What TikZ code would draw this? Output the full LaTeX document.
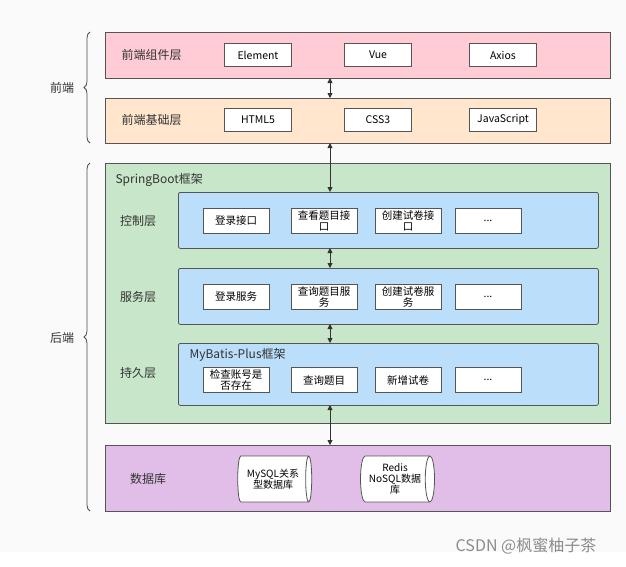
\documentclass[tikz,border=0pt]{standalone}
\usepackage{fontspec}
\setmainfont{Noto Sans CJK SC}
\usetikzlibrary{shapes.geometric,decorations.pathreplacing,arrows.meta}
\definecolor{pinkf}{HTML}{FFCCD5}
\definecolor{orangef}{HTML}{FFE6CC}
\definecolor{greenf}{HTML}{C8E6C9}
\definecolor{bluef}{HTML}{BBDEFB}
\definecolor{purplef}{HTML}{E1BEE7}
\definecolor{edge}{HTML}{555555}
\begin{document}
\begin{tikzpicture}[x=1pt,y=-1pt,
  layer/.style={draw=edge,line width=0.8pt},
  item/.style={draw=edge,fill=white,line width=0.8pt,minimum width=66pt,minimum height=25pt,inner sep=1pt,align=center,font=\fontsize{10.5}{11}\selectfont},
  lbl/.style={font=\fontsize{12}{13}\selectfont,text=black!80},
  arr/.style={{Triangle[length=5pt,width=5pt]}-{Triangle[length=5pt,width=5pt]},line width=0.9pt,draw=black!80},
  brace/.style={decorate,decoration={brace,amplitude=6pt,mirror},draw=black!70,line width=0.8pt},
  db/.style={cylinder,shape border rotate=0,aspect=0.3,draw=edge,fill=white,line width=0.8pt,minimum width=46pt,minimum height=74pt,align=center,inner sep=0pt,font=\fontsize{10}{11}\selectfont}]
\useasboundingbox (0,0) rectangle (626,566);
\fill[black!2] (0,0) rectangle (626,552);
% frontend
\node[layer,fill=pinkf,minimum width=505pt,minimum height=46pt,anchor=north west] (fc) at (105,32) {};
\node[lbl,anchor=west] (fcl) at (118,55) {前端组件层};
\node[item,minimum width=67pt,minimum height=23pt] (el) at (258,55) {Element};
\node[item,minimum width=67pt,minimum height=23pt] (vue) at (378,55) {Vue};
\node[item,minimum width=67pt,minimum height=23pt] (ax) at (503,55) {Axios};
\node[layer,fill=orangef,minimum width=505pt,minimum height=45pt,anchor=north west] (fb) at (105,98) {};
\node[lbl,anchor=west] (fbl) at (118,120) {前端基础层};
\node[item,minimum width=67pt,minimum height=23pt] (h5) at (258,120) {HTML5};
\node[item,minimum width=67pt,minimum height=23pt] (css) at (378,120) {CSS3};
\node[item,minimum width=67pt,minimum height=23pt] (js) at (503,120) {JavaScript};
% backend
\node[layer,fill=greenf,minimum width=505pt,minimum height=260pt,anchor=north west] (sb) at (105,163) {};
\node[lbl,anchor=west] (sbl) at (112,180) {SpringBoot框架};
\node[layer,fill=bluef,rounded corners=2pt,minimum width=420pt,minimum height=56pt,anchor=north west] (ctl) at (178,192) {};
\node[lbl] (ctll) at (138,221) {控制层};
\node[item] (c1) at (236,221) {登录接口};
\node[item] (c2) at (324,221) {查看题目接\\口};
\node[item] (c3) at (408,221) {创建试卷接\\口};
\node[item] (c4) at (488,221) {...};
\node[layer,fill=bluef,rounded corners=2pt,minimum width=420pt,minimum height=56pt,anchor=north west] (svc) at (178,268) {};
\node[lbl] (svcl) at (138,297) {服务层};
\node[item] (s1) at (236,297) {登录服务};
\node[item] (s2) at (324,297) {查询题目服\\务};
\node[item] (s3) at (408,297) {创建试卷服\\务};
\node[item] (s4) at (488,297) {...};
\node[layer,fill=bluef,rounded corners=2pt,minimum width=420pt,minimum height=62pt,anchor=north west] (per) at (178,343) {};
\node[lbl,anchor=west] (perm) at (186,355) {MyBatis-Plus框架};
\node[lbl] (perl) at (138,373) {持久层};
\node[item] (p1) at (236,380) {检查账号是\\否存在};
\node[item] (p2) at (324,380) {查询题目};
\node[item] (p3) at (408,380) {新增试卷};
\node[item] (p4) at (488,380) {...};
\node[layer,fill=purplef,minimum width=505pt,minimum height=66pt,anchor=north west] (dbl) at (105,445) {};
\node[lbl] (dbll) at (148,479) {数据库};
\node[db] (mysql) at (273,479) {MySQL关系\\型数据库};
\node[db] (redis) at (395,479) {Redis\\NoSQL数据\\库};
% arrows
\draw[arr] (330,78) -- (330,98);
\draw[arr] (330,143) -- (330,192);
\draw[arr] (330,248) -- (330,268);
\draw[arr] (330,324) -- (330,343);
\draw[arr] (330,405) -- (330,445);
% braces
\draw[brace] (90,32) -- (90,143);
\node[lbl] (fe) at (62,88) {前端};
\draw[brace] (90,163) -- (90,511);
\node[lbl] (be) at (62,338) {后端};
\node[font=\fontsize{16}{17}\selectfont,text=black!45] (wm) at (526,546) {CSDN @枫蜜柚子茶};
\end{tikzpicture}
\end{document}
